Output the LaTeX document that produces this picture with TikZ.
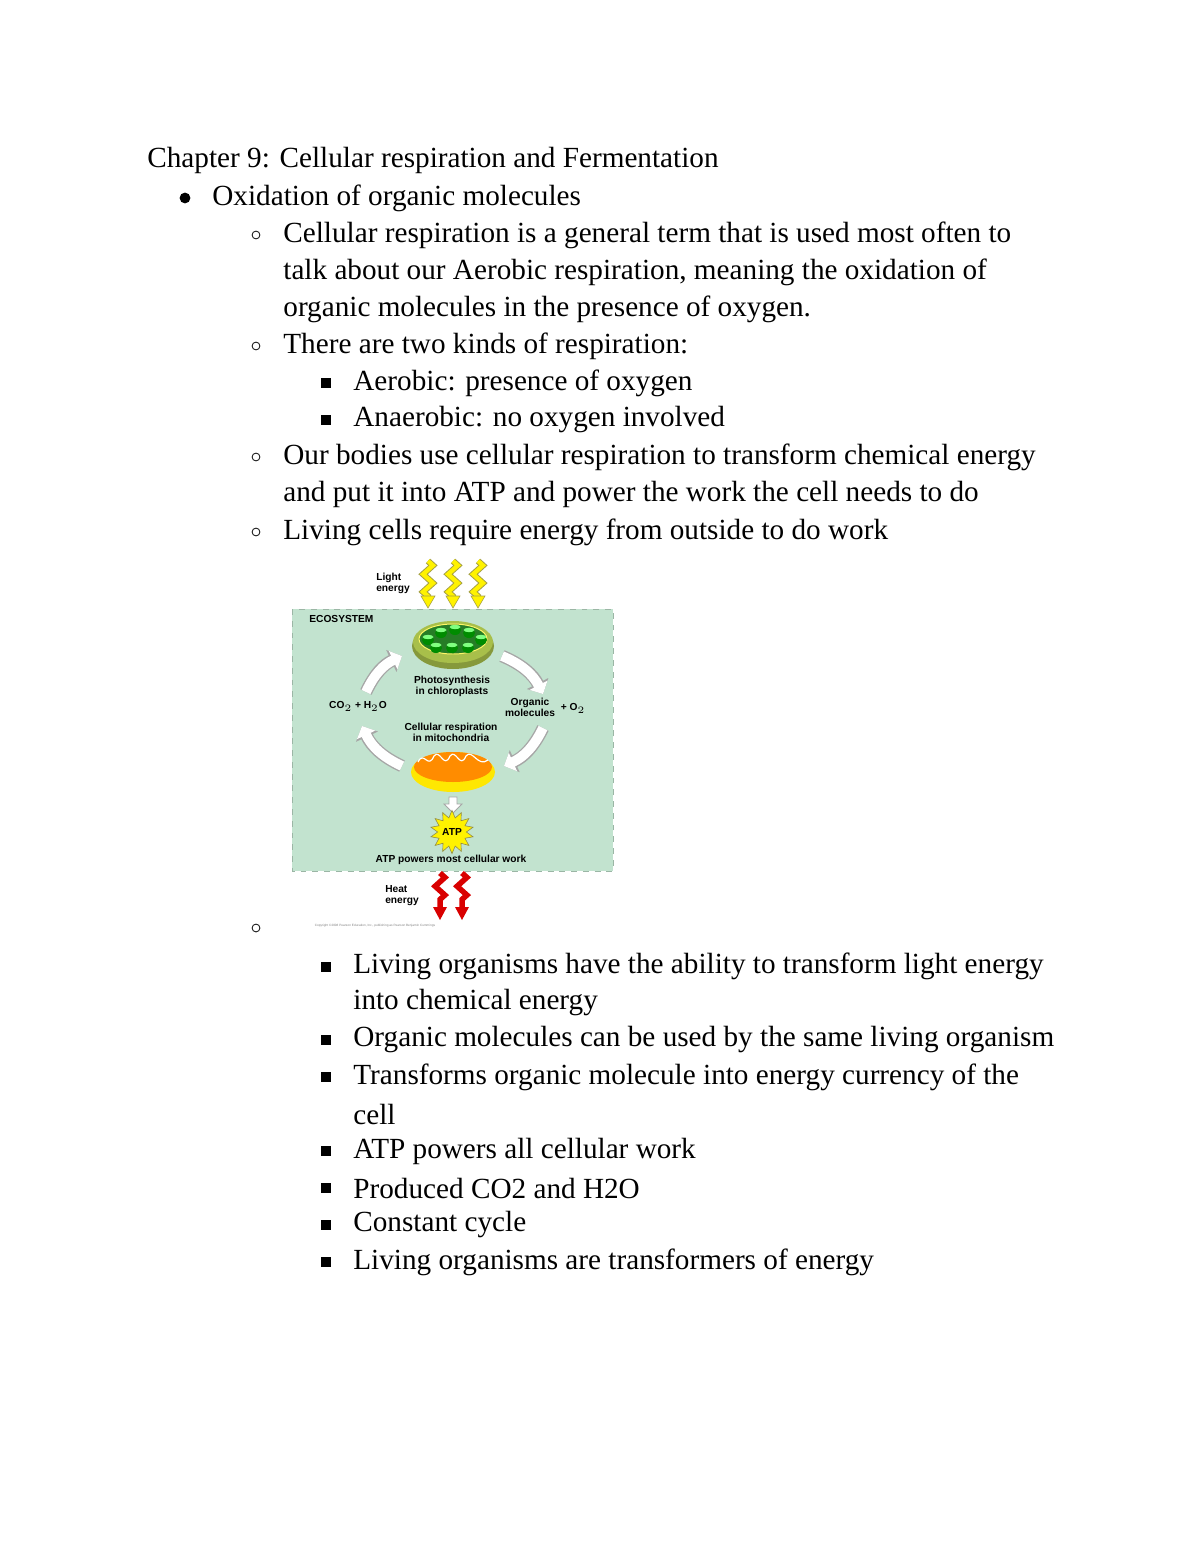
\documentclass[tikz,border=0pt]{standalone}
\usepackage{fontspec}
\setmainfont{Liberation Serif}
\newfontfamily\figfont{Liberation Sans}
\usetikzlibrary{arrows.meta,decorations.pathmorphing,shapes.geometric}
\definecolor{eco}{HTML}{C2E3CF}
\definecolor{chlo}{HTML}{A8BF4A}
\tikzset{
 txt/.style={anchor=west,inner sep=0pt,font=\fontsize{14.9}{17}\selectfont},
 lbl/.style={inner sep=0pt,font=\figfont\bfseries\fontsize{5.2}{5.6}\selectfont,align=center},
 bsq/.style={fill=black,minimum size=5pt,inner sep=0pt},
 bci/.style={circle,draw=black,line width=0.4pt,minimum size=4pt,inner sep=0pt},
 bdot/.style={circle,fill=black,minimum size=5.5pt,inner sep=0pt},
 wav/.style={decorate,decoration={zigzag,segment length=9pt,amplitude=2.5pt}},
 carrow/.style={line width=5pt,draw=white,-{Triangle[length=5pt,width=10pt]}},
 carrowb/.style={line width=6.4pt,draw=gray!70,-{Triangle[length=6pt,width=12pt]}},
}
\begin{document}
\begin{tikzpicture}[x=0.51pt,y=-0.51pt]
\useasboundingbox (0,0) rectangle (1200,1553);
\fill[white] (0,0) rectangle (1200,1553);
% text
\node[txt] (t0) at (147,160) {Chapter 9: Cellular respiration and Fermentation};
\node[bdot] (b1) at (185,198) {};
\node[txt] (t1) at (212,198) {Oxidation of organic molecules};
\node[bci] (c1) at (256,235) {};
\node[txt] (t2) at (283,235) {Cellular respiration is a general term that is used most often to};
\node[txt] (t3) at (283,272) {talk about our Aerobic respiration, meaning the oxidation of};
\node[txt] (t4) at (283,309) {organic molecules in the presence of oxygen.};
\node[bci] (c2) at (256,346) {};
\node[txt] (t5) at (283,346) {There are two kinds of respiration:};
\node[bsq] (s1) at (326,383) {};
\node[txt] (t6) at (353,383) {Aerobic: presence of oxygen};
\node[bsq] (s2) at (326,420) {};
\node[txt] (t7) at (353,420) {Anaerobic: no oxygen involved};
\node[bci] (c3) at (256,457) {};
\node[txt] (t8) at (283,457) {Our bodies use cellular respiration to transform chemical energy};
\node[txt] (t9) at (283,494) {and put it into ATP and power the work the cell needs to do};
\node[bci] (c4) at (256,532) {};
\node[txt] (t10) at (283,532) {Living cells require energy from outside to do work};
\node[bci] (c5) at (256,928) {};
\node[bsq] (s3) at (326,967) {};
\node[txt] (t11) at (353,966) {Living organisms have the ability to transform light energy};
\node[txt] (t12) at (353,1003) {into chemical energy};
\node[bsq] (s4) at (326,1040) {};
\node[txt] (t13) at (353,1040) {Organic molecules can be used by the same living organism};
\node[bsq] (s5) at (326,1077) {};
\node[txt] (t14) at (353,1077) {Transforms organic molecule into energy currency of the};
\node[txt] (t15) at (353,1114) {cell};
\node[bsq] (s6) at (326,1151) {};
\node[txt] (t16) at (353,1151) {ATP powers all cellular work};
\node[bsq] (s7) at (326,1188) {};
\node[txt] (t17) at (353,1188) {Produced CO2 and H2O};
\node[bsq] (s8) at (326,1225) {};
\node[txt] (t18) at (353,1225) {Constant cycle};
\node[bsq] (s9) at (326,1262) {};
\node[txt] (t19) at (353,1262) {Living organisms are transformers of energy};
% figure
\draw[eco!80!black,dashed,fill=eco,line width=0.5pt] (292,609) rectangle (613,871);
\node[lbl,anchor=west] (eco) at (309,619) {ECOSYSTEM};
\node[lbl,align=left] (le) at (393,583) {Light\\energy};
\foreach \x in {428,453,478}{
 \draw[wav,line width=3.2pt,draw=black!40!yellow] (\x,561) -- (\x,597);
 \draw[wav,line width=2.2pt,draw=yellow] (\x,561) -- (\x,597);
 \fill[yellow,draw=black!40!yellow,line width=0.3pt] (\x-7,596) -- (\x+7,596) -- (\x,608) -- cycle;
}
% chloroplast
\coordinate (chl) at (453,644);
\fill[chlo!80!black] (453,646) ellipse (41 and 23);
\fill[chlo] (453,642) ellipse (40 and 21);
\draw[yellow!60!white,line width=0.5pt,fill=green!40!black!85] (453,639) ellipse (34 and 15);
\foreach \x/\y in {428/640,441/633,455/630,469/633,481/640,436/648,452/648,468/648}{
 \fill[green!55!black] (\x,\y) ellipse (6 and 5);
 \fill[green!50] (\x,\y-3) ellipse (5.5 and 2.2);
}
\node[lbl] (ps) at (452,686) {Photosynthesis\\in chloroplasts};
\node[lbl] (co) at (358,706) {CO$_2$ + H$_2$O};
\node[lbl] (om) at (530,707) {Organic\\molecules};
\node[lbl] (o2) at (573,708) {+ O$_2$};
\node[lbl] (cr) at (451,732) {Cellular respiration\\in mitochondria};
% mitochondrion
\coordinate (mit) at (453,770);
\fill[yellow!90!orange] (453,772) ellipse (42 and 20);
\fill[orange!90!yellow] (453,767) ellipse (39 and 15);
\draw[white,line width=0.6pt] (418,762) .. controls (424,750) and (428,770) .. (434,756) .. controls (440,748) and (444,770) .. (450,756) .. controls (456,748) and (460,770) .. (466,756) .. controls (472,748) and (478,768) .. (488,760);
% curved arrows
\coordinate (a1s) at (366,692); \coordinate (a1e) at (402,656);
\coordinate (a2s) at (502,656); \coordinate (a2e) at (543,694);
\coordinate (a3s) at (543,728); \coordinate (a3e) at (504,766);
\coordinate (a4s) at (402,766); \coordinate (a4e) at (362,726);
\foreach \s/\e in {a1s/a1e,a2s/a2e,a3s/a3e,a4s/a4e}{
 \draw[carrowb] (\s) to[bend left=20] (\e);
 \draw[carrow] (\s) to[bend left=20] (\e);
}
% down arrow
\draw[gray!70,fill=white,line width=0.4pt] (449,797) -- (457,797) -- (457,804) -- (462,804) -- (453,813) -- (444,804) -- (449,804) -- cycle;
\node[star,star points=14,star point ratio=1.5,fill=yellow,draw=black!50!yellow,line width=0.3pt,minimum size=22pt,inner sep=0pt] (atp) at (452,832) {};
\node[lbl] (atpt) at (452,832) {ATP};
\node[lbl] (pw) at (451,860) {ATP powers most cellular work};
\node[lbl,align=left] (he) at (402,896) {Heat\\energy};
\foreach \x in {440,462}{
 \draw[wav,line width=2.8pt,draw=red!85!black] (\x,873) -- (\x,908);
 \fill[red!85!black] (\x-7,907) -- (\x+7,907) -- (\x,920) -- cycle;
}
\node[inner sep=0pt,font=\figfont\fontsize{1.6}{2}\selectfont,text=gray] (cp) at (375,926) {Copyright \copyright 2008 Pearson Education, Inc., publishing as Pearson Benjamin Cummings};
\end{tikzpicture}
\end{document}
